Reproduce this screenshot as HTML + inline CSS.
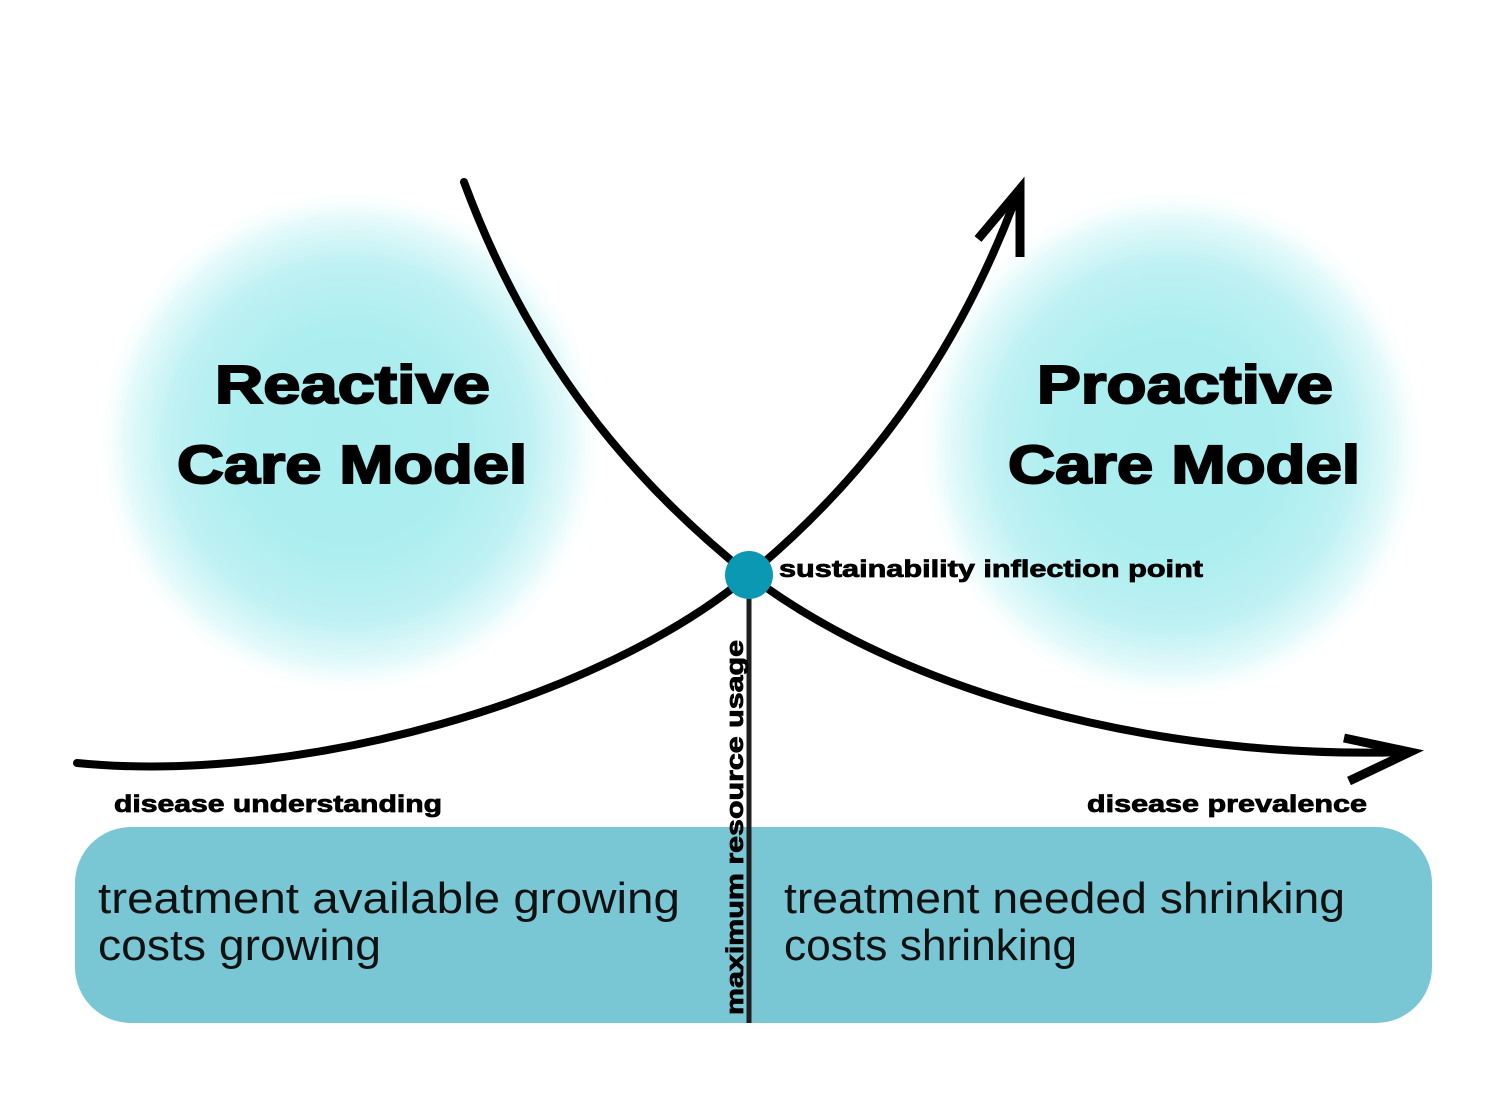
<!DOCTYPE html>
<html>
<head>
<meta charset="utf-8">
<style>
  html, body { margin: 0; padding: 0; background: #ffffff; }
  body { width: 1500px; height: 1100px; overflow: hidden; }
  svg { display: block; }
  .heavy { font-family: "Liberation Sans", "DejaVu Sans", sans-serif; font-weight: 700; fill: #000; stroke: #000; }
  .light { font-family: "Liberation Sans", "DejaVu Sans", sans-serif; font-weight: 400; fill: #111; }
</style>
</head>
<body>
<svg width="1500" height="1100" viewBox="0 0 1500 1100" xmlns="http://www.w3.org/2000/svg">
  <defs>
    <radialGradient id="glow" cx="50%" cy="50%" r="50%">
      <stop offset="0%" stop-color="#a9edef"/>
      <stop offset="45%" stop-color="#adeef0"/>
      <stop offset="70%" stop-color="#bff1f3"/>
      <stop offset="88%" stop-color="#e6fafb"/>
      <stop offset="100%" stop-color="#ffffff" stop-opacity="0"/>
    </radialGradient>
  </defs>

  <rect x="0" y="0" width="1500" height="1100" fill="#ffffff"/>

  <!-- glows -->
  <ellipse cx="350" cy="442" rx="256" ry="256" fill="url(#glow)"/>
  <ellipse cx="1172" cy="445" rx="256" ry="260" fill="url(#glow)"/>

  <!-- bottom rounded box -->
  <rect x="75" y="827" width="1357" height="196" rx="56" ry="56" fill="#79c7d5"/>

  <!-- vertical line -->
  <line x1="749" y1="575" x2="749" y2="1023" stroke="#1e1e1e" stroke-width="5"/>

  <!-- curve A (rising) -->
  <path d="M77,763 C300,785 600,700 749,575 C870,475 960,350 1018,192" fill="none" stroke="#000" stroke-width="8" stroke-linecap="round"/>
  <polyline points="978,239 1020,189 1020,257" fill="none" stroke="#000" stroke-width="9" stroke-linecap="butt" stroke-linejoin="miter"/>

  <!-- curve B (falling) -->
  <path d="M464,182 C530,360 630,480 749,575 C900,690 1150,760 1405,752" fill="none" stroke="#000" stroke-width="8" stroke-linecap="round"/>
  <polyline points="1344,738 1410,752 1349,781" fill="none" stroke="#000" stroke-width="9" stroke-linecap="butt" stroke-linejoin="miter"/>

  <!-- dot -->
  <circle cx="749" cy="575" r="24" fill="#0a98b2"/>

  <!-- titles -->
  <text class="heavy" x="215" y="403" font-size="54" stroke-width="2" textLength="275" lengthAdjust="spacingAndGlyphs">Reactive</text>
  <text class="heavy" x="177" y="483" font-size="54" stroke-width="2" textLength="350" lengthAdjust="spacingAndGlyphs">Care Model</text>
  <text class="heavy" x="1037" y="403" font-size="54" stroke-width="2" textLength="296" lengthAdjust="spacingAndGlyphs">Proactive</text>
  <text class="heavy" x="1008" y="483" font-size="54" stroke-width="2" textLength="352" lengthAdjust="spacingAndGlyphs">Care Model</text>

  <!-- small labels -->
  <text class="heavy" x="779" y="577" font-size="24" stroke-width="0.8" textLength="424" lengthAdjust="spacingAndGlyphs">sustainability inflection point</text>
  <text class="heavy" x="114" y="812" font-size="24" stroke-width="0.8" textLength="328" lengthAdjust="spacingAndGlyphs">disease understanding</text>
  <text class="heavy" x="1087" y="812" font-size="24" stroke-width="0.8" textLength="280" lengthAdjust="spacingAndGlyphs">disease prevalence</text>

  <!-- rotated label -->
  <text class="heavy" x="0" y="0" font-size="24" stroke-width="0.8" textLength="375" lengthAdjust="spacingAndGlyphs" transform="translate(743,1015) rotate(-90)">maximum resource usage</text>

  <!-- box texts -->
  <text class="light" x="98" y="913" font-size="44" textLength="582" lengthAdjust="spacingAndGlyphs">treatment available growing</text>
  <text class="light" x="98" y="960" font-size="44" textLength="283" lengthAdjust="spacingAndGlyphs">costs growing</text>
  <text class="light" x="784" y="913" font-size="44" textLength="561" lengthAdjust="spacingAndGlyphs">treatment needed shrinking</text>
  <text class="light" x="784" y="960" font-size="44" textLength="293" lengthAdjust="spacingAndGlyphs">costs shrinking</text>
</svg>
</body>
</html>
